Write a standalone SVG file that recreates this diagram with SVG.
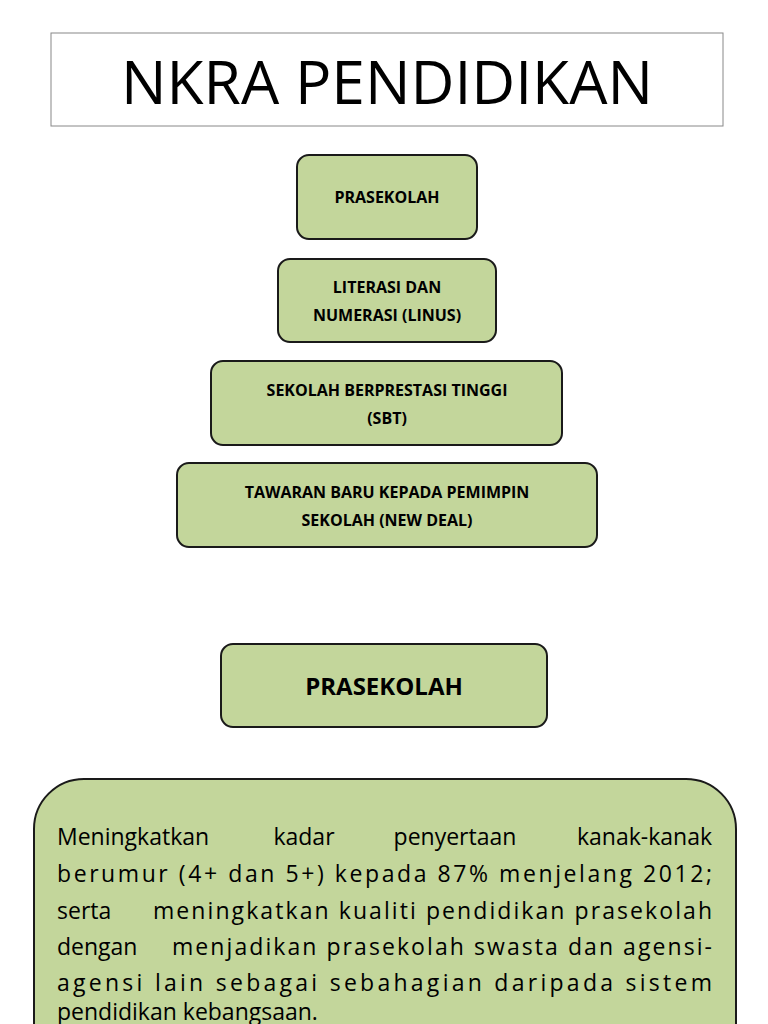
<svg xmlns="http://www.w3.org/2000/svg" width="768" height="1024" viewBox="0 0 768 1024">
<style>
.n{fill:#c3d69b;stroke:#1a1a1a;stroke-width:2}
.t{font-family:"Open Sans","Liberation Sans",sans-serif;font-weight:bold;font-size:16px;text-anchor:middle;fill:#000}
.b{font-family:"Open Sans","Liberation Sans",sans-serif;font-size:23px;fill:#000}
</style>
<rect width="768" height="1024" fill="#fff"/>
<g id="title"><rect x="51" y="33" width="672" height="93" fill="#fff" stroke="#888" stroke-width="1"/>
<text x="387" y="104" font-family="Open Sans,Liberation Sans,sans-serif" font-size="60" text-anchor="middle" textLength="532" lengthAdjust="spacingAndGlyphs">NKRA PENDIDIKAN</text></g>
<g id="n1"><rect class="n" x="297" y="155" width="180" height="84" rx="12"/><text class="t" x="387" y="203">PRASEKOLAH</text></g>
<g id="n2"><rect class="n" x="278" y="259" width="218" height="83" rx="12"/><text class="t" x="387" y="293">LITERASI DAN</text><text class="t" x="387" y="321">NUMERASI (LINUS)</text></g>
<g id="n3"><rect class="n" x="211" y="361" width="351" height="84" rx="12"/><text class="t" x="387" y="396">SEKOLAH BERPRESTASI TINGGI</text><text class="t" x="387" y="424">(SBT)</text></g>
<g id="n4"><rect class="n" x="177" y="463" width="420" height="84" rx="12"/><text class="t" x="387" y="498">TAWARAN BARU KEPADA PEMIMPIN</text><text class="t" x="387" y="526">SEKOLAH (NEW DEAL)</text></g>
<g id="n5"><rect class="n" x="221" y="644" width="326" height="83" rx="12"/><text class="t" x="384" y="695" style="font-size:24px">PRASEKOLAH</text></g>
<g id="n6"><rect class="n" x="34" y="779" width="702" height="320" rx="50"/>
<text class="b" x="57" y="845">Meningkatkan</text>
<text class="b" x="304" y="845" text-anchor="middle">kadar</text>
<text class="b" x="455" y="845" text-anchor="middle">penyertaan</text>
<text class="b" x="712" y="845" text-anchor="end">kanak-kanak</text>
<text class="b" x="57" y="882" textLength="655" lengthAdjust="spacing">berumur (4+ dan 5+) kepada 87% menjelang 2012;</text>
<text class="b" x="57" y="919">serta</text>
<text class="b" x="153" y="919" textLength="559" lengthAdjust="spacing">meningkatkan kualiti pendidikan prasekolah</text>
<text class="b" x="57" y="955">dengan</text>
<text class="b" x="172" y="955" textLength="540" lengthAdjust="spacing">menjadikan prasekolah swasta dan agensi-</text>
<text class="b" x="57" y="991" textLength="655" lengthAdjust="spacing">agensi lain sebagai sebahagian daripada sistem</text>
<text class="b" x="57" y="1020">pendidikan kebangsaan.</text></g>
<g id="connectors"/>
</svg>
